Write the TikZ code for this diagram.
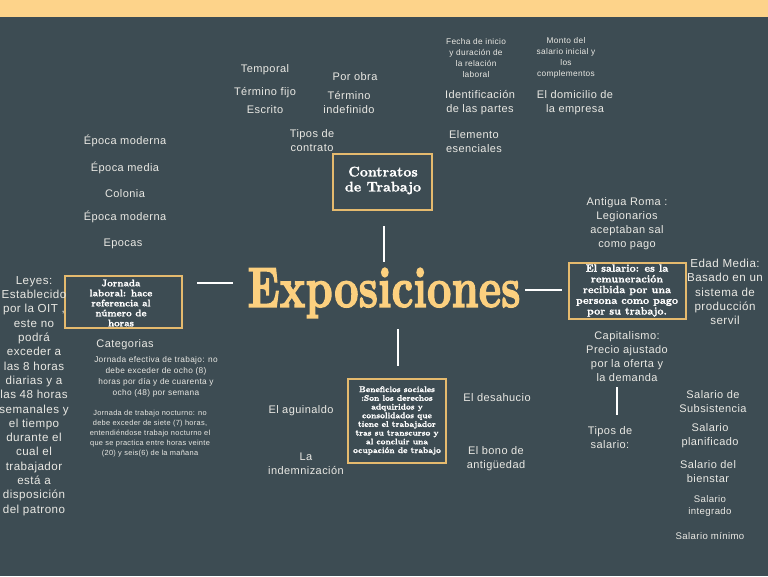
\documentclass[tikz,border=0pt]{standalone}
\usepackage{fontspec}
\newfontfamily\sansf{Liberation Sans}[LetterSpace=4]
\newfontfamily\heavyf{lmroman10-bold.otf}[FakeBold=2.5]
\newfontfamily\boxf{lmroman10-bold.otf}[FakeBold=1.2]
\definecolor{bg}{HTML}{3D4C53}
\definecolor{band}{HTML}{FDD38A}
\definecolor{gold}{HTML}{E5BA6E}
\definecolor{title}{HTML}{FCD07F}
\definecolor{fg}{HTML}{EAE9E4}
\begin{document}
\begin{tikzpicture}[x=1pt,y=-1pt,
  txt/.style={text=fg, font=\sansf\fontsize{11}{14}\selectfont, align=center, inner sep=0pt, yshift=-1.2pt},
  bigtxt/.style={text=fg, font=\sansf\fontsize{11.6}{14.3}\selectfont, align=center, inner sep=0pt, yshift=-1pt},
  smalltxt/.style={text=fg, font=\sansf\fontsize{8.3}{11.2}\selectfont, align=center, inner sep=0pt},
  tinytxt/.style={text=fg, font=\sansf\fontsize{7.4}{10}\selectfont, align=center, inner sep=0pt},
  mintxt/.style={text=fg, font=\sansf\fontsize{9.6}{12.2}\selectfont, align=center, inner sep=0pt},
  framebox/.style={draw=gold, line width=1.3pt, inner sep=0pt},
  boxtxt/.style={text=white, align=center, inner sep=0pt},
  conn/.style={draw=white, line width=1.3pt}]
\useasboundingbox (0,0) rectangle (768,576);
\fill[bg] (0,0) rectangle (768,576);
\fill[band] (0,0) rectangle (768,17);

% central title
\node[inner sep=0pt, text=title] (title) at (384,293) {\resizebox*{273pt}{50pt}{\heavyf Exposiciones}};

% connectors
\coordinate (cu1) at (384,226); \coordinate (cu2) at (384,262);
\coordinate (cl1) at (197,283); \coordinate (cl2) at (233,283);
\coordinate (cr1) at (525,290); \coordinate (cr2) at (562,290);
\coordinate (cd1) at (398,329); \coordinate (cd2) at (398,366);
\coordinate (cs1) at (617,387); \coordinate (cs2) at (617,415);
\draw[conn] (cu1) -- (cu2);
\draw[conn] (cl1) -- (cl2);
\draw[conn] (cr1) -- (cr2);
\draw[conn] (cd1) -- (cd2);
\draw[conn] (cs1) -- (cs2);

% Contratos de trabajo
\node[framebox, minimum width=99pt, minimum height=56pt] (contr) at (382.5,182) {};
\node[boxtxt, font=\boxf\fontsize{14}{15}\selectfont] (contrt) at (383,180.5) {Contratos\\de Trabajo};
\node[txt] (temp) at (265,68) {Temporal};
\node[txt] (tfijo) at (265,91) {Término fijo};
\node[txt] (escr) at (265,108) {Escrito};
\node[txt] (pobra) at (355,75) {Por obra};
\node[txt] (tind) at (349,101) {Término\\indefinido};
\node[txt] (tipc) at (312,139) {Tipos de\\contrato};
\node[smalltxt] (fecha) at (476,58) {Fecha de inicio\\y duración de\\la relación\\laboral};
\node[smalltxt] (monto) at (566,58) {Monto del\\salario inicial y\\los\\complementos};
\node[txt] (ident) at (480,101) {Identificación\\de las partes};
\node[txt] (domic) at (575,101) {El domicilio de\\la empresa};
\node[txt] (eleme) at (474,140) {Elemento\\esenciales};

% Jornada laboral
\node[framebox, minimum width=117pt, minimum height=52pt] (jorn) at (123.5,302) {};
\node[boxtxt, font=\boxf\fontsize{9.6}{10}\selectfont] (jornt) at (121,303) {Jornada\\laboral: hace\\referencia al\\número de\\horas};
\node[txt] (ep1) at (125,140) {Época moderna};
\node[txt] (ep2) at (125,167) {Época media};
\node[txt] (ep3) at (125,192) {Colonia};
\node[txt] (ep4) at (125,216) {Época moderna};
\node[txt] (ep5) at (123,243) {Epocas};
\node[bigtxt] (leyes) at (34,395) {Leyes:\\Establecido\\por la OIT ,\\este no\\podrá\\exceder a\\las 8 horas\\diarias y a\\las 48 horas\\semanales y\\el tiempo\\durante el\\cual el\\trabajador\\está a\\disposición\\del patrono};
\node[txt] (categ) at (125,343) {Categorias};
\node[smalltxt] (efect) at (156,377) {Jornada efectiva de trabajo: no\\debe exceder de ocho (8)\\horas por día y de cuarenta y\\ocho (48) por semana};
\node[tinytxt] (noct) at (150,434) {Jornada de trabajo nocturno: no\\debe exceder de siete (7) horas,\\entendiéndose trabajo nocturno el\\que se practica entre horas veinte\\(20) y seis(6) de la mañana};

% Beneficios sociales
\node[framebox, minimum width=98pt, minimum height=84pt] (benef) at (397,421) {};
\node[boxtxt, font=\boxf\fontsize{8.3}{8.7}\selectfont] (beneft) at (397,420.5) {Beneficios sociales\\:Son los derechos\\adquiridos y\\consolidados que\\tiene el trabajador\\tras su transcurso y\\al concluir una\\ocupación de trabajo};
\node[txt] (agui) at (301,409) {El aguinaldo};
\node[txt] (indem) at (306,463) {La\\indemnización};
\node[txt] (desah) at (497,396) {El desahucio};
\node[txt] (bono) at (496,457) {El bono de\\antigüedad};

% Salario
\node[framebox, minimum width=117pt, minimum height=56pt] (sal) at (627.5,291) {};
\node[boxtxt, font=\boxf\fontsize{10.6}{10.7}\selectfont] (salt) at (627,290.5) {El salario: es la\\remuneración\\recibida por una\\persona como pago\\por su trabajo.};
\node[txt] (roma) at (627,222) {Antigua Roma :\\Legionarios\\aceptaban sal\\como pago};
\node[bigtxt] (edad) at (725,291) {Edad Media:\\Basado en un\\sistema de\\producción\\servil};
\node[txt] (capit) at (627,355) {Capitalismo:\\Precio ajustado\\por la oferta y\\la demanda};
\node[txt] (tipsal) at (610,436) {Tipos de\\salario:};
\node[txt] (subs) at (713,400) {Salario de\\Subsistencia};
\node[txt] (plan) at (710,434) {Salario\\planificado};
\node[txt] (bien) at (708,470) {Salario del\\bienstar};
\node[mintxt] (integ) at (710,506) {Salario\\integrado};
\node[mintxt] (minimo) at (710,536) {Salario mínimo};
\end{tikzpicture}
\end{document}
